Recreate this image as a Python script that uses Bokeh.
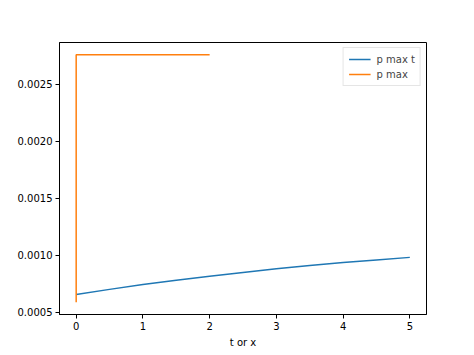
from bokeh.plotting import figure
from bokeh.models import Range1d, FixedTicker, NumeralTickFormatter, Legend, LegendItem
from bokeh.embed import file_html
from bokeh.resources import INLINE

# data
t_vals = [0.0, 0.5, 1.0, 1.5, 2.0, 2.5, 3.0, 3.5, 4.0, 4.5, 5.0]
p_max_t = [0.000654, 0.000699, 0.000742, 0.000780, 0.000815, 0.000848,
           0.000880, 0.000909, 0.000935, 0.000958, 0.000980]
x_vals = [0.0, 0.0, 2.0]
p_max = [0.000587, 0.002758, 0.002758]

x_ticks = [0, 1, 2, 3, 4, 5]
y_ticks = [0.0005, 0.0010, 0.0015, 0.0020, 0.0025]

FONT = "DejaVu Sans"

xmin, xmax = min(t_vals + x_vals), max(t_vals + x_vals)
ymin, ymax = min(p_max_t + p_max), max(p_max_t + p_max)
xm = 0.05 * (xmax - xmin)
ym = 0.05 * (ymax - ymin)

p = figure(width=474, height=355, output_backend="svg", toolbar_location=None,
           x_range=Range1d(xmin - xm, xmax + xm), y_range=Range1d(ymin - ym, ymax + ym),
           min_border_left=59, min_border_right=48, min_border_top=42, min_border_bottom=41)

p.grid.visible = False
p.outline_line_color = "black"
p.outline_line_width = 1
p.background_fill_color = "white"
p.border_fill_color = "white"

r1 = p.line(t_vals, p_max_t, line_color="#1f77b4", line_width=1.5)
r2 = p.line(x_vals, p_max, line_color="#ff7f0e", line_width=1.5)

for ax in (p.xaxis[0], p.yaxis[0]):
    ax.major_tick_in = 0
    ax.major_tick_out = 4
    ax.minor_tick_line_color = None
    ax.axis_line_color = "black"
    ax.major_tick_line_color = "black"
    ax.major_label_text_font = FONT
    ax.major_label_text_font_size = "10px"
    ax.major_label_text_color = "black"
    ax.major_label_standoff = 3

p.xaxis.ticker = FixedTicker(ticks=x_ticks)
p.xaxis.formatter = NumeralTickFormatter(format="0")
p.yaxis.ticker = FixedTicker(ticks=y_ticks)
p.yaxis.formatter = NumeralTickFormatter(format="0.0000")

p.xaxis.axis_label = "t or x"
p.xaxis.axis_label_text_font = FONT
p.xaxis.axis_label_text_font_size = "10px"
p.xaxis.axis_label_text_font_style = "normal"
p.xaxis.axis_label_text_color = "black"
p.xaxis.axis_label_standoff = 4

legend = Legend(items=[LegendItem(label="p max t", renderers=[r1]),
                       LegendItem(label="p max", renderers=[r2])],
                location="top_right")
legend.label_text_font = FONT
legend.label_text_font_size = "10px"
legend.glyph_width = 22
legend.glyph_height = 12
legend.label_height = 12
legend.label_standoff = 6
legend.padding = 5
legend.spacing = 3
legend.margin = 5
legend.border_line_color = "#cccccc"
legend.border_line_width = 1
legend.background_fill_alpha = 0.8
p.add_layout(legend)

open("out.html", "w").write(file_html(p, INLINE))
